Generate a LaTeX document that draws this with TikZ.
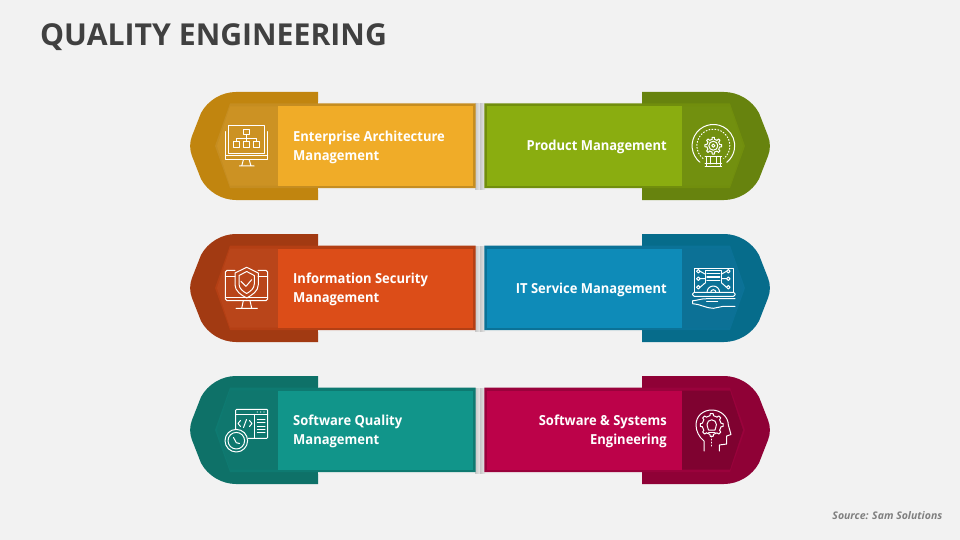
\documentclass[tikz,border=0pt]{standalone}
\usepackage{fontspec}
\setmainfont{Open Sans}
\newfontfamily\cardfont[FakeStretch=0.94]{Open Sans}
\definecolor{pagebg}{HTML}{F2F2F2}
\definecolor{titlegray}{HTML}{404040}
\definecolor{yellowbody}{HTML}{F0AC28}
\definecolor{yellowpanel}{HTML}{CC9223}
\definecolor{yellowback}{HTML}{C1850F}
\definecolor{greenbody}{HTML}{8AAD10}
\definecolor{greenpanel}{HTML}{72900F}
\definecolor{greenback}{HTML}{67830E}
\definecolor{redbody}{HTML}{DC4D18}
\definecolor{redpanel}{HTML}{B9451A}
\definecolor{redback}{HTML}{A23A12}
\definecolor{bluebody}{HTML}{0E8BB8}
\definecolor{bluepanel}{HTML}{0C7196}
\definecolor{blueback}{HTML}{066C8B}
\definecolor{tealbody}{HTML}{11958A}
\definecolor{tealpanel}{HTML}{0F776E}
\definecolor{tealback}{HTML}{0E7168}
\definecolor{pinkbody}{HTML}{BC0249}
\definecolor{pinkpanel}{HTML}{7F0230}
\definecolor{pinkback}{HTML}{8F0136}
\tikzset{
  iconline/.style={draw=white,line width=1pt,line join=round,line cap=round},
  cardtext/.style={text=white,font=\fontsize{13.8}{19}\selectfont\cardfont\bfseries},
}
% one gear outline: centre, inner radius, outer radius
\newcommand{\gearshape}[4]{
  \foreach \a in {0,#4,...,359}{
    \draw[iconline,shift={(#1)}] (\a-11:#2)--(\a-7:#3)--(\a+7:#3)--(\a+11:#2)
      arc[start angle=\a+11,delta angle=#4-22,radius=#2];
  }
}
% one card, drawn for the left column
\newcommand{\cardshape}[3]{
  \fill[#3] (318,0)--(236,0) .. controls (222,0) and (208,8) .. (201,21)--(192,44)
    .. controls (189.5,50) and (189.5,58) .. (192,64)--(201,87)
    .. controls (208,100) and (222,108) .. (236,108)--(318,108)--cycle;
  \fill[black!6] (318,10.5)rectangle(476,98);
  \shade[left color=black!22,right color=black!9] (475,12)rectangle(480,97);
  \fill[#1!82!black] (230,11.5)--(475.7,11.5)--(475.7,96)--(230,96)--(215,54)--cycle;
  \fill[#2] (230,14.5)--(278,14.5)--(278,93.5)--(230,93.5)--(217,54)--cycle;
  \fill[#1] (278,14.5)rectangle(472.8,93.5);
}
\begin{document}
\begin{tikzpicture}[x=1pt,y=-1pt]
  \fill[pagebg] (0,0)rectangle(960,540);
  \useasboundingbox (0,0)rectangle(960,540);
  \node[anchor=west,inner sep=0,text=titlegray,font=\fontsize{30.2}{36}\selectfont\bfseries] (title) at (40,37) {QUALITY ENGINEERING};
  \foreach \yy/\cbody/\cpanel/\cback in {92/yellowbody/yellowpanel/yellowback,234/redbody/redpanel/redback,376/tealbody/tealpanel/tealback}{
    \begin{scope}[yshift=-\yy pt]
      \cardshape{\cbody}{\cpanel}{\cback}
    \end{scope}
  }
  \foreach \yy/\cbody/\cpanel/\cback in {92/greenbody/greenpanel/greenback,234/bluebody/bluepanel/blueback,376/pinkbody/pinkpanel/pinkback}{
    \begin{scope}[xshift=960pt,xscale=-1,yshift=-\yy pt]
      \cardshape{\cbody}{\cpanel}{\cback}
    \end{scope}
  }
  % labels
  \node[cardtext,anchor=west,align=left,inner sep=0] (enterprise) at (293,147.5) {Enterprise Architecture\\Management};
  \node[cardtext,anchor=west,align=left,inner sep=0] (security) at (293,289.5) {Information Security\\Management};
  \node[cardtext,anchor=west,align=left,inner sep=0] (quality) at (293,431.5) {Software Quality\\Management};
  \node[cardtext,anchor=east,align=right,inner sep=0] (product) at (667,147) {Product Management};
  \node[cardtext,anchor=east,align=right,inner sep=0] (service) at (667,289.5) {IT Service Management};
  \node[cardtext,anchor=east,align=right,inner sep=0] (systems) at (667,431.5) {Software \& Systems\\Engineering};
  \node[anchor=east,inner sep=0,text=black!50,font=\fontsize{10.5}{12}\selectfont\bfseries\itshape] (source) at (942.5,516) {Source: Sam Solutions};
  % monitor icon
  \draw[iconline] (228.7,125.7)rectangle(264.7,153.3);
  \draw[iconline] (225.3,131.7)--(225.3,160)--(267.7,160)--(267.7,131.7);
  \draw[iconline] (225.3,155.7)--(267.7,155.7);
  \draw[iconline] (243.3,160)--(241.7,166) (249.3,160)--(251,166) (239.3,166)--(254,166);
  \draw[iconline] (243.3,130)rectangle(249.3,135);
  \draw[iconline] (246.3,135)--(246.3,141.7) (236.3,141.7)--(236.3,139)--(256.3,139)--(256.3,141.7);
  \foreach \xx in {233.3,243.3,253.3}{
    \draw[iconline] (\xx,141.7)rectangle(\xx+6,147.7);
  }
  % bulb gear icon
  \draw[iconline] (700,162.3) arc[start angle=129,end angle=411,radius=21.3];
  \draw[iconline,dotted] (703,158.5) arc[start angle=129,end angle=411,radius=16.5];
  \gearshape{713.3,145.7}{6.5}{8.5}{45}
  \draw[iconline] (713.3,145.7) circle[radius=4.5] (713.3,145.7) circle[radius=1.6];
  \draw[iconline] (706,156.7)--(706,166) (720.7,156.7)--(720.7,166) (710,156.7)--(710,164) (716.7,156.7)--(716.7,164);
  \draw[iconline] (705,156.7)--(721.7,156.7) (705,164)--(721.7,164) (705,166.3)--(721.7,166.3);
  % shield monitor icon
  \draw[iconline] (235,270.3)--(227,270.3)--(225.3,272)--(225.3,299)--(227,300.7)--(266,300.7)--(267.7,299)--(267.7,272)--(266,270.3)--(258,270.3);
  \draw[iconline] (225.3,276.3)--(235,276.3) (258,276.3)--(267.7,276.3) (225.3,297.3)--(267.7,297.3);
  \draw[iconline] (243.3,300.7)--(241.7,308.3) (250,300.7)--(251.7,308.3) (236,308.3)--(257.3,308.3);
  \draw[iconline] (246.7,267.3)--(235,273)--(235,284.7) .. controls (235,291) and (241,295) .. (246.7,298)
    .. controls (252.3,295) and (258.3,291) .. (258.3,284.7)--(258.3,273)--cycle;
  \draw[iconline] (246.7,271.5)--(239,275.5)--(239,284) .. controls (239,288.5) and (243,291.5) .. (246.7,293.5)
    .. controls (250.3,291.5) and (254.3,288.5) .. (254.3,284)--(254.3,275.5)--cycle;
  \draw[iconline] (241,281.3)--(246,286.3)--(251.7,279.7);
  % laptop icon
  \draw[iconline] (694,292.3)--(694,268)--(733.3,268)--(733.3,292.3);
  \draw[iconline,rounded corners=1.5pt] (692.7,292.3)rectangle(735,296.3);
  \draw[iconline] (705,283)--(705,270.3)--(721.7,270.3)--(721.7,283);
  \foreach \yb in {273.3,277,280.5}{
    \draw[iconline,line width=1.4pt] (707,\yb)--(719.7,\yb);
  }
  \draw[iconline] (707,292.3) arc[start angle=180,end angle=360,radius=6.3] (710.7,292.3) arc[start angle=180,end angle=360,radius=2.6];
  \foreach \yb/\yc in {271.3/274,278.7/278.7,287.3/283}{
    \draw[iconline] (698.3,\yb) circle[radius=1.8] (700.1,\yb)--(705,\yc);
    \draw[iconline] (728.3,\yb) circle[radius=1.8] (726.5,\yb)--(721.7,\yc);
  }
  \draw[iconline] (735,298.7)--(706.7,298.7) .. controls (700,298.7) and (697,300.7) .. (692.7,300.7)--(692.7,303.7)
    .. controls (700,304) and (706,308.3) .. (713.3,308.3) .. controls (717,308.3) and (720,306.3) .. (723.3,306.3)--(735,306.3);
  \draw[iconline] (706.7,301.3)--(717.5,301.3);
  % window clock icon
  \draw[iconline,rounded corners=1pt] (235.7,432)--(235.7,409.3)--(267.7,409.3)--(267.7,438.3)--(248,438.3);
  \draw[iconline] (235.7,414.3)--(267.7,414.3) (254,414.3)--(254,438.3);
  \foreach \xx in {257.3,260.7,264}{
    \fill[white] (\xx,412) circle[radius=0.6];
  }
  \foreach \yb in {419.3,422.7,426,429.3,432.7}{
    \draw[iconline] (257.3,\yb)--(265,\yb);
  }
  \draw[iconline] (240.5,420.5)--(238,423.5)--(240.5,426.5) (249.5,420.5)--(252,423.5)--(249.5,426.5) (246.5,419.5)--(243.5,427.5);
  \draw[iconline,fill=tealpanel] (236.3,440.7) circle[radius=11.3];
  \draw[iconline] (236.3,440.7) circle[radius=8.3];
  \draw[iconline] (233.5,437.5)--(236.3,442.7)--(239.5,443.5);
  % head icon
  \draw[iconline] (704,451)--(704,441) .. controls (699,437) and (696,431) .. (696,425)
    .. controls (696,416) and (703,410) .. (711.7,410) .. controls (721,410) and (728.3,417) .. (728.3,425)
    --(731,434.5)--(726.7,436)--(726.7,444)--(719.3,445)--(719.3,451);
  \gearshape{711.7,425}{9.5}{11.5}{45}
  \draw[iconline] (708.5,430) .. controls (708,427.5) and (707,426.5) .. (707,424.5) arc[start angle=180,end angle=360,radius=4.7] .. controls (716.4,426.5) and (715.4,427.5) .. (715,430)--cycle;
  \draw[iconline] (708.5,432.7)--(715,432.7);
  \draw[iconline,dotted] (711.7,436)--(711.7,447);
\end{tikzpicture}
\end{document}
